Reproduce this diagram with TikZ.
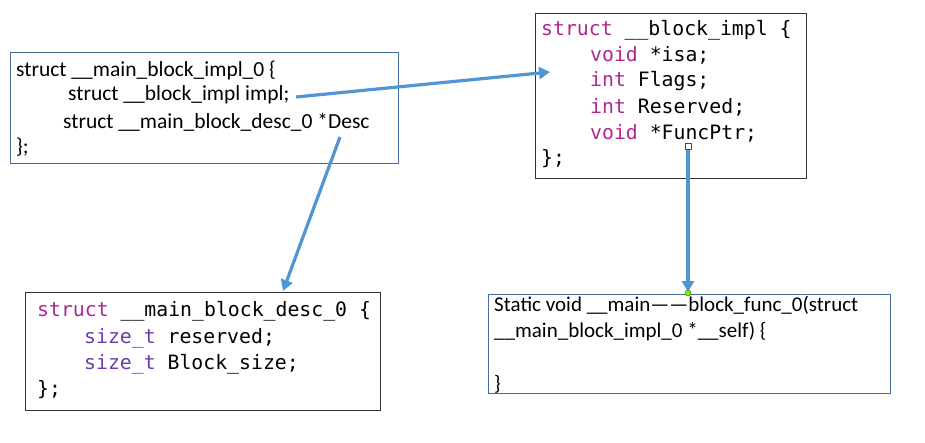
\documentclass[tikz,border=0pt]{standalone}
\usepackage{fontspec}
\setmainfont{Carlito}
\setmonofont{DejaVu Sans Mono}
\usetikzlibrary{arrows.meta}
\definecolor{kw}{RGB}{176,38,146}
\definecolor{ty}{RGB}{110,60,170}
\definecolor{bblue}{RGB}{70,110,160}
\definecolor{arr}{RGB}{80,150,210}
\newcommand{\kw}[1]{\textcolor{kw}{#1}}
\newcommand{\ty}[1]{\textcolor{ty}{#1}}
\begin{document}
\begin{tikzpicture}[x=1pt,y=-1pt,
  box/.style={draw=#1,line width=0.8pt,anchor=north west,inner sep=0pt},
  txt/.style={anchor=west,inner sep=0pt,font=\fontsize{21.5}{24}\selectfont},
  txtb/.style={anchor=west,inner sep=0pt,font=\fontsize{21}{24}\selectfont},
  code/.style={anchor=west,inner sep=0pt,font=\fontsize{19.8}{24}\ttfamily},
  conn/.style={draw=arr,line width=3.2pt,-{Triangle[length=11pt,width=12pt]}}]
\useasboundingbox (0,0) rectangle (925,442);
\node[box=bblue,minimum width=388,minimum height=111] (b1) at (10,52) {};
\node[box=black!80,minimum width=271,minimum height=165] (b2) at (535,13) {};
\node[box=black!80,minimum width=355,minimum height=118] (b3) at (25,292) {};
\node[box=bblue,minimum width=402,minimum height=99] (b4) at (488,294) {};
% box 1
\node[txt] (t11) at (16,70) {struct \_\_main\_block\_impl\_0 \{};
\node[txt] (t12) at (68,95) {struct \_\_block\_impl impl;};
\node[txt] (t13) at (63,122) {struct \_\_main\_block\_desc\_0 *Desc};
\node[txt] (t14) at (16,147) {\};};
% box 2
\node[code] (t21) at (541,30) {\kw{struct} \_\_block\_impl \{};
\node[code] (t22) at (590,55) {\kw{void} *isa;};
\node[code] (t23) at (590,81) {\kw{int} Flags;};
\node[code] (t24) at (590,107) {\kw{int} Reserved;};
\node[code] (t25) at (590,133) {\kw{void} *FuncPtr;};
\node[code] (t26) at (541,159) {\};};
% box 3
\node[code] (t31) at (37,311) {\kw{struct} \_\_main\_block\_desc\_0 \{};
\node[code] (t32) at (84,338) {\ty{size\_t} reserved;};
\node[code] (t33) at (84,364) {\ty{size\_t} Block\_size;};
\node[code] (t34) at (37,390) {\};};
% box 4
\node[txtb] (t41) at (494,305) {Static void \_\_main——block\_func\_0(struct};
\node[txtb] (t42) at (494,332) {\_\_main\_block\_impl\_0 *\_\_self) \{};
\node[txtb] (t43) at (494,384) {\}};
% connectors
\coordinate (s1) at (296,97);
\coordinate (e1) at (550,72);
\coordinate (s2) at (340,137);
\coordinate (e2) at (283,291);
\coordinate (s3) at (688,146);
\coordinate (e3) at (688,292);
\draw[conn] (s1) -- (e1);
\draw[conn] (s2) -- (e2);
\draw[conn] (s3) -- (e3);
\node[draw=black!70,fill=white,minimum size=6pt,inner sep=0pt] (sq) at (s3) {};
\node[circle,draw=black!70,fill=green!60!yellow,minimum size=6pt,inner sep=0pt] (gc) at (688,293) {};
\end{tikzpicture}
\end{document}
